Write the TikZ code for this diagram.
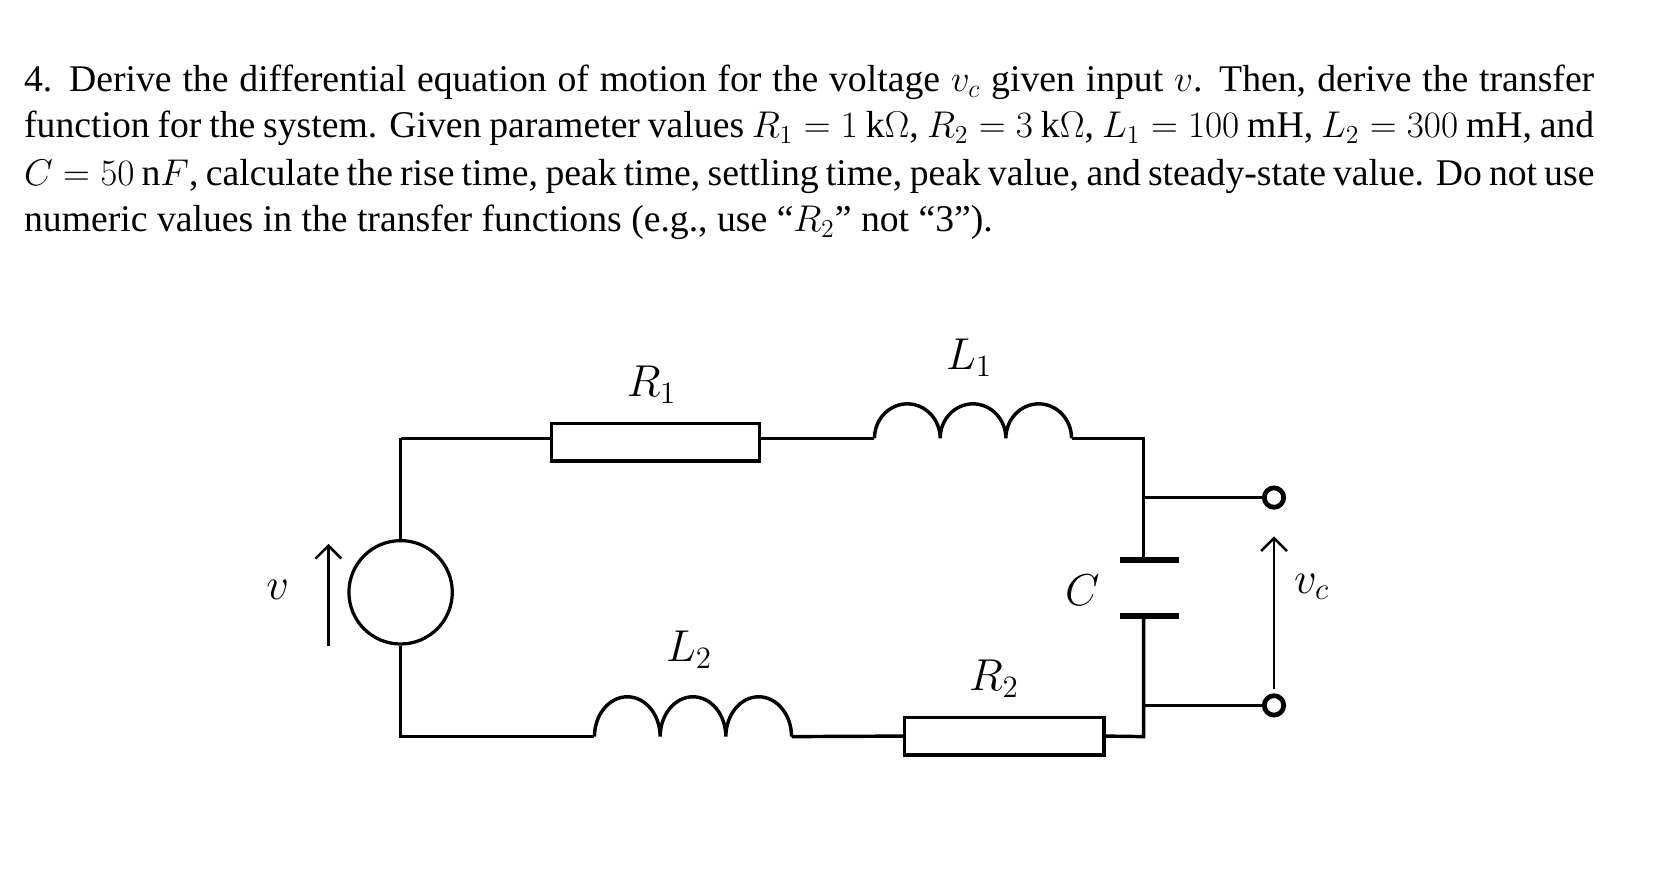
\documentclass[tikz,border=0pt]{standalone}
\usepackage{fontspec}
\setmainfont{Liberation Serif}
\usetikzlibrary{arrows.meta}
\begin{document}
\begin{tikzpicture}[x=0.5pt,y=-0.5pt,
 w/.style={line width=1.6pt},
 lab/.style={font=\fontsize{20}{24}\selectfont},
 tl/.style={anchor=base west,inner sep=0pt,font=\fontsize{17.5}{21}\selectfont},
 term/.style={circle,draw,line width=2.2pt,minimum size=9pt,inner sep=0pt,fill=white}]
\useasboundingbox (0,0) rectangle (1560,810);
\node[tl] (t1l) at (22,85) {\makebox[729pt][s]{4. Derive the differential equation of motion for the voltage $v_c$ given input $v$. Then, derive the transfer}};
\node[tl] (t2l) at (22,128) {\makebox[729pt][s]{function for the system. Given parameter values $R_1=1\ \mathrm{k}\Omega$, $R_2=3\ \mathrm{k}\Omega$, $L_1=100$ mH, $L_2=300$ mH, and}};
\node[tl] (t3l) at (22,172) {\makebox[729pt][s]{$C=50\ \mathrm{n}F$, calculate the rise time, peak time, settling time, peak value, and steady-state value. Do not use}};
\node[tl] (t4l) at (22,215) {numeric values in the transfer functions (e.g., use ``$R_2$'' not ``3'').};
% coordinates
\coordinate (tl) at (372,407);
\coordinate (bl) at (372,684);
\coordinate (tr) at (1062,407);
\coordinate (br) at (1062,684);
\node[draw,w,minimum width=96.5pt,minimum height=17.5pt,inner sep=0pt] (r1) at (608.5,410.5) {};
\node[draw,w,minimum width=92.5pt,minimum height=17.5pt,inner sep=0pt] (r2) at (932.5,683.5) {};
\node[circle,draw,line width=1.5pt,minimum size=48pt,inner sep=0pt] (src) at (372,550) {};
\coordinate (l1a) at (812,407); \coordinate (l1b) at (995,407);
\coordinate (l2a) at (552,684); \coordinate (l2b) at (735,684);
\coordinate (cp1) at (1062,520); \coordinate (cp2) at (1062,572);
\node[term] (t1) at (1183,462) {};
\node[term] (t2) at (1183,655) {};
% wires
\draw[w] (tl) -- (r1.west |- tl);
\draw[w] (r1.east |- tl) -- (l1a);
\draw[w] (l1a) arc[start angle=180,end angle=360,x radius=30.5,y radius=32]
 arc[start angle=180,end angle=360,x radius=30.5,y radius=32]
 arc[start angle=180,end angle=360,x radius=30.5,y radius=32] -- (l1b);
\draw[w] (l1b) -- (tr) -- (cp1);
\draw[w] (cp2) -- (br) -- (r2.east);
\draw[w] (r2.west) -- (l2b);
\draw[w] (l2a) arc[start angle=180,end angle=360,x radius=30.5,y radius=37]
 arc[start angle=180,end angle=360,x radius=30.5,y radius=37]
 arc[start angle=180,end angle=360,x radius=30.5,y radius=37];
\draw[w] (l2a) -- (bl) -- (src.south);
\draw[w] (src.north) -- (tl);
\draw[line width=2.4pt] (1040,520) -- (1095,520) (1040,572) -- (1095,572);
\draw[w] (1062,462) -- (t1.west);
\draw[w] (1062,655) -- (t2.west);
\draw[line width=1.2pt,-{Straight Barb[length=6pt]}] (305,600) -- (305,505);
\draw[line width=1.2pt,-{Straight Barb[length=6pt]}] (1183,640) -- (1183,498);
% labels
\node[lab] (lv) at (258,548) {$v$};
\node[lab] (lvc) at (1218,545) {$v_c$};
\node[lab] (lc) at (1005,548) {$C$};
\node[lab] (lr1) at (605,357) {$R_1$};
\node[lab] (ll1) at (900,332) {$L_1$};
\node[lab] (ll2) at (640,603) {$L_2$};
\node[lab] (lr2) at (923,630) {$R_2$};
\end{tikzpicture}
\end{document}
